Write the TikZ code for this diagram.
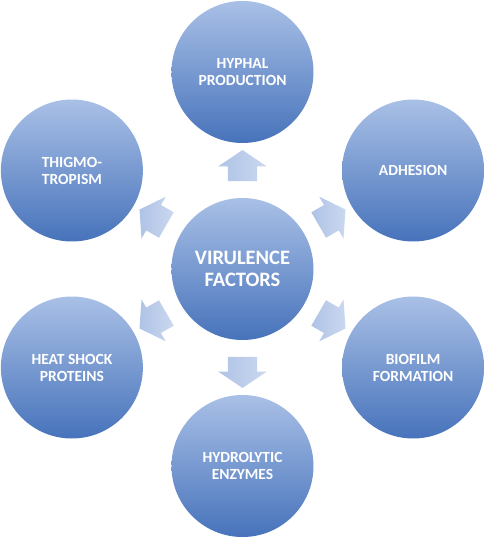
\documentclass[tikz,border=0pt]{standalone}
\usepackage{fontspec}
\setmainfont{Carlito}
\usetikzlibrary{shapes.arrows}
\definecolor{circtop}{HTML}{A9C0E6}
\definecolor{circbot}{HTML}{4773BB}
\definecolor{arrlight}{HTML}{CAD8EF}
\definecolor{arrdark}{HTML}{AFC3E6}

\begin{document}
\begin{tikzpicture}[
		factor/.style={circle, minimum size=142bp, inner sep=0pt, top color=circtop, bottom color=circbot, text=white, align=center, font=\fontsize{15.5bp}{17bp}\selectfont\bfseries},
		main/.style={factor, font=\fontsize{20.5bp}{22bp}\selectfont\bfseries},
		blockarrow/.style={single arrow, minimum height=31bp, inner xsep=0pt, inner ysep=14.5bp, single arrow head extend=9.5bp, single arrow tip angle=112, left color=arrdark, right color=arrlight}
	]
		\useasboundingbox (-242.5bp,-269bp) rectangle (242.5bp,269bp);
		\node [main] (VF) at (0,0) 
			{VIRULENCE\\ FACTORS}; 
		\node [factor] (HP) at (90:197bp) 
			{HYPHAL\\ PRODUCTION}; 
		\node [factor] (AD) at (30:197bp) 
			{ADHESION}; 
		\node [factor] (BF) at (-30:197bp) 
			{BIOFILM\\ FORMATION}; 
		\node [factor] (HE) at (-90:197bp) 
			{HYDROLYTIC\\ ENZYMES}; 
		\node [factor] (HS) at (-150:197bp) 
			{HEAT SHOCK\\ PROTEINS}; 
		\node [factor] (TH) at (150:197bp) 
			{THIGMO-\\ TROPISM}; 
		\foreach \ang/\nm in {90/aHP, 30/aAD, -30/aBF, -90/aHE, -150/aHS, 150/aTH}
			\node [blockarrow, rotate=\ang] (\nm) at (\ang:98.5bp) {};
	\end{tikzpicture}
\end{document}
